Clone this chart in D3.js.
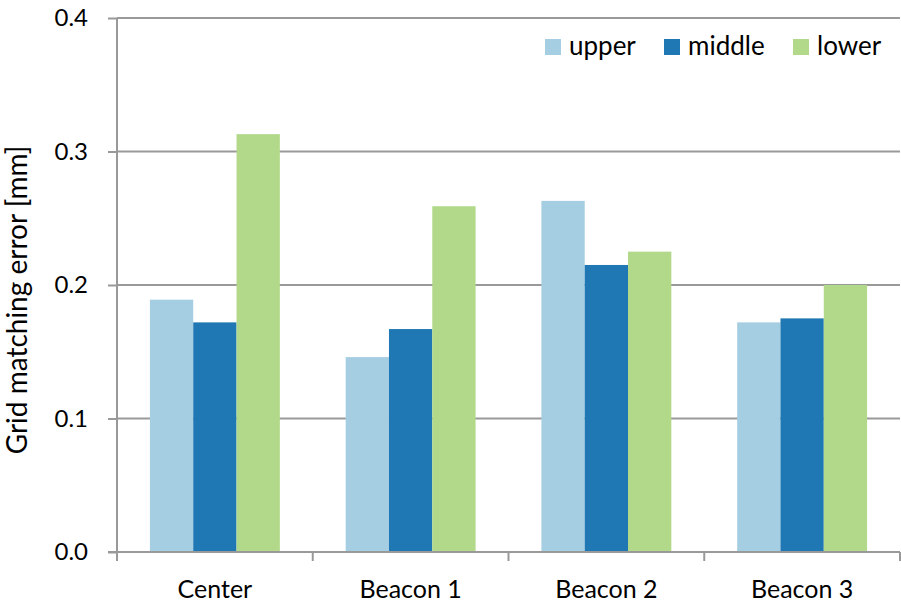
<!DOCTYPE html>
<html>
<head>
<meta charset="utf-8">
<script src="https://cdn.jsdelivr.net/npm/d3@7"></script>
<style>
  body { margin: 0; background: #fff; }
  text { font-family: Lato, "Open Sans", sans-serif; fill: #000; }
</style>
</head>
<body>
<svg width="901" height="611"></svg>
<script>
var categories = ["Center", "Beacon 1", "Beacon 2", "Beacon 3"];
var seriesNames = ["upper", "middle", "lower"];
var upper = [0.189, 0.146, 0.263, 0.172];
var middle = [0.172, 0.167, 0.215, 0.175];
var lower = [0.313, 0.259, 0.225, 0.200];
var yTicks = [0, 0.1, 0.2, 0.3, 0.4];
var colors = ["#a6cee3", "#1f78b4", "#b2d98a"];

var values = [upper, middle, lower];
var data = categories.map(function (c, i) {
    return { cat: c, vals: seriesNames.map(function (s, j) { return { key: s, v: values[j][i] }; }) };
});

var svg = d3.select("svg"),
    margin = { top: 18, right: 1, bottom: 59, left: 117 },
    width = +svg.attr("width") - margin.left - margin.right,
    height = +svg.attr("height") - margin.top - margin.bottom;

var x0 = d3.scaleBand().domain(categories).range([0, width]).padding(0);
var x1 = d3.scaleBand().domain(seriesNames).range([0, x0.bandwidth()]).paddingInner(0).paddingOuter(0.76);
var y = d3.scaleLinear().domain([0, 0.4]).range([height, 0]);
var color = d3.scaleOrdinal().domain(seriesNames).range(colors);

var g = svg.append("g")
    .attr("transform", "translate(" + margin.left + "," + margin.top + ")");

// gridlines
g.append("g")
    .selectAll("line")
    .data(yTicks.slice(1))
    .enter().append("line")
    .attr("x1", 0)
    .attr("x2", width)
    .attr("y1", function (d) { return y(d); })
    .attr("y2", function (d) { return y(d); })
    .attr("stroke", "#999")
    .attr("stroke-width", 2);

// bars
var groups = g.append("g").selectAll("g")
    .data(data)
    .enter().append("g")
    .attr("transform", function (d) { return "translate(" + x0(d.cat) + ",0)"; });

groups.selectAll("rect")
    .data(function (d) { return d.vals; })
    .enter().append("rect")
    .attr("x", function (d) { return x1(d.key); })
    .attr("y", function (d) { return y(d.v); })
    .attr("width", x1.bandwidth())
    .attr("height", function (d) { return height - y(d.v); })
    .attr("fill", function (d) { return color(d.key); });

// y axis
var yAxis = g.append("g")
    .call(d3.axisLeft(y).tickValues(yTicks).tickFormat(d3.format(".1f")).tickSize(9).tickPadding(20));
yAxis.selectAll("path, line").attr("stroke", "#999").attr("stroke-width", 2);
yAxis.select(".domain").attr("d", "M0," + (height + 9) + "V0");
yAxis.selectAll("text").style("font-size", "24px").style("font-family", "Lato, sans-serif");

// x axis
var xAxis = g.append("g")
    .attr("transform", "translate(0," + height + ")")
    .call(d3.axisBottom(x0).tickSize(0).tickPadding(28));
xAxis.select(".domain").attr("stroke", "#999").attr("stroke-width", 2).attr("d", "M-9,0H" + width);
xAxis.selectAll("text").style("font-size", "25px").style("font-family", "Lato, sans-serif");
xAxis.selectAll(".sep")
    .data(categories.concat([null]))
    .enter().append("line")
    .attr("class", "sep")
    .attr("x1", function (d, i) { return i * x0.step(); })
    .attr("x2", function (d, i) { return i * x0.step(); })
    .attr("y1", 0)
    .attr("y2", 9)
    .attr("stroke", "#999")
    .attr("stroke-width", 2);

// y title
svg.append("text")
    .attr("transform", "translate(27," + 300 + ") rotate(-90)")
    .attr("text-anchor", "middle")
    .style("font-size", "28px")
    .text("Grid matching error [mm]");

// legend
var legendX = [545, 664, 793];
var legend = svg.append("g").selectAll("g")
    .data(seriesNames)
    .enter().append("g")
    .attr("transform", function (d, i) { return "translate(" + legendX[i] + ",39)"; });
legend.append("rect")
    .attr("width", 16)
    .attr("height", 16)
    .attr("fill", function (d) { return color(d); });
legend.append("text")
    .attr("x", 24)
    .attr("y", 16)
    .style("font-size", "26px")
    .text(function (d) { return d; });
</script>
</body>
</html>
